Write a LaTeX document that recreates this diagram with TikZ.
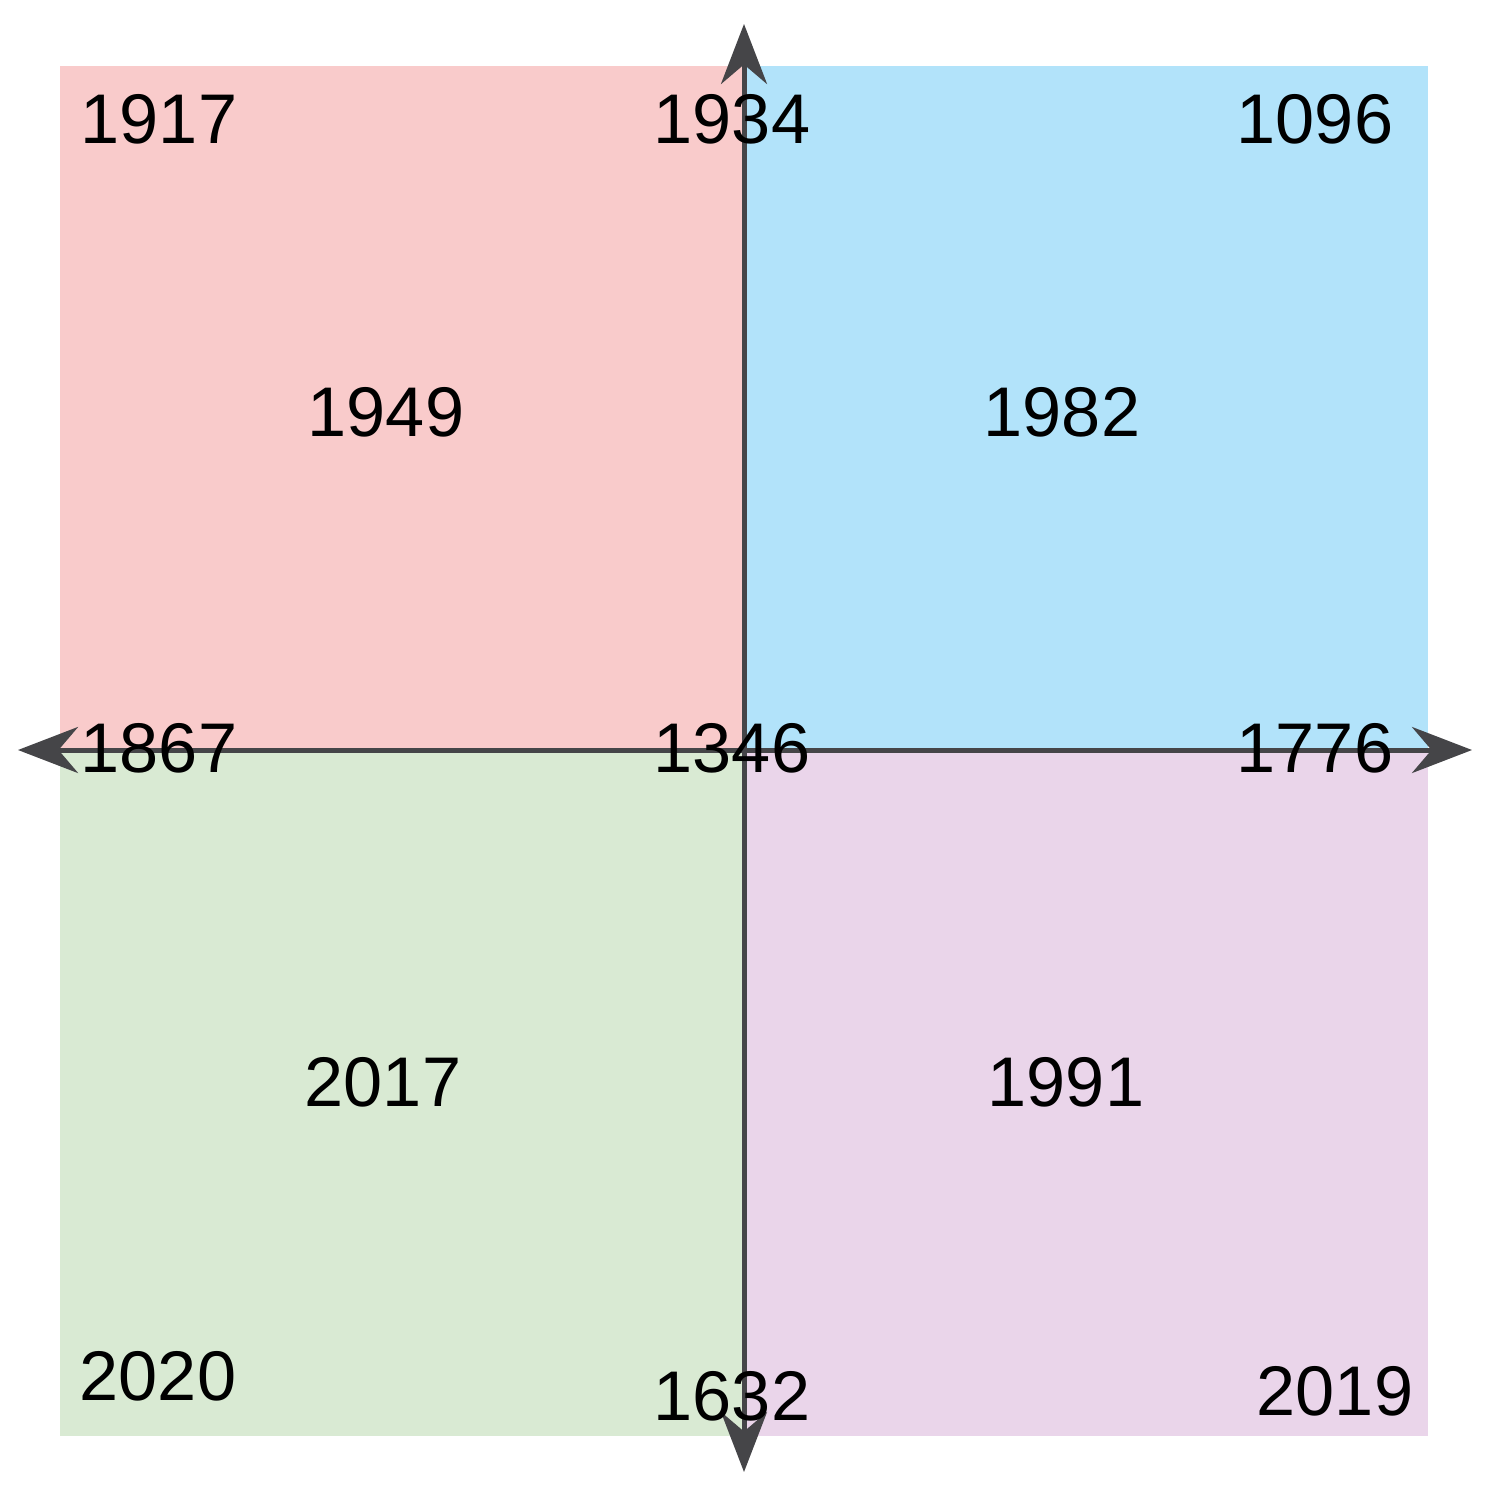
\documentclass[tikz,border=0pt]{standalone}
\usepackage{fontspec}
\setmainfont{Liberation Sans}
\usetikzlibrary{arrows.meta,positioning}
\definecolor{quadred}{HTML}{F9CBCB}
\definecolor{quadblue}{HTML}{B2E3FA}
\definecolor{quadgreen}{HTML}{D9EAD3}
\definecolor{quadpurple}{HTML}{EAD5EA}
\definecolor{axisgray}{HTML}{454548}
\begin{document}
\begin{tikzpicture}[x=0.1mm,y=-0.1mm,
    year/.style={font=\fontsize{20pt}{24pt}\selectfont,inner sep=0pt},
    axis/.style={axisgray,line width=0.5mm,{Stealth[length=6mm,width=4.6mm]}-{Stealth[length=6mm,width=4.6mm]}}]
                            \useasboundingbox (0,0) rectangle (1488,1488);
                            \fill[quadred] (60,66) rectangle (744,750);
                            \fill[quadblue] (744,66) rectangle (1428,750);
                            \fill[quadgreen] (60,750) rectangle (744,1436);
                            \fill[quadpurple] (744,750) rectangle (1428,1436);
                            \coordinate (N) at (744,24);
                            \coordinate (S) at (744,1472);
                            \coordinate (W) at (18,750);
                            \coordinate (E) at (1472,750);
                            \draw[axis] (S) -- (N);
                            \draw[axis] (W) -- (E);
                            \node[year] (y1917) at (159,119) {1917};
                            \node[year] (y1934) at (732,119) {1934};
                            \node[year] (y1096) at (1315,119) {1096};
                            \node[year] (y1949) at (386,412) {1949};
                            \node[year] (y1982) at (1062,412) {1982};
                            \node[year] (y1867) at (159,748) {1867};
                            \node[year] (y1346) at (732,748) {1346};
                            \node[year] (y1776) at (1315,748) {1776};
                            \node[year] (y2017) at (383,1082) {2017};
                            \node[year] (y1991) at (1066,1082) {1991};
                            \node[year] (y2020) at (158,1376) {2020};
                            \node[year] (y1632) at (732,1396) {1632};
                            \node[year] (y2019) at (1335,1391) {2019};
                        \end{tikzpicture}
\end{document}
